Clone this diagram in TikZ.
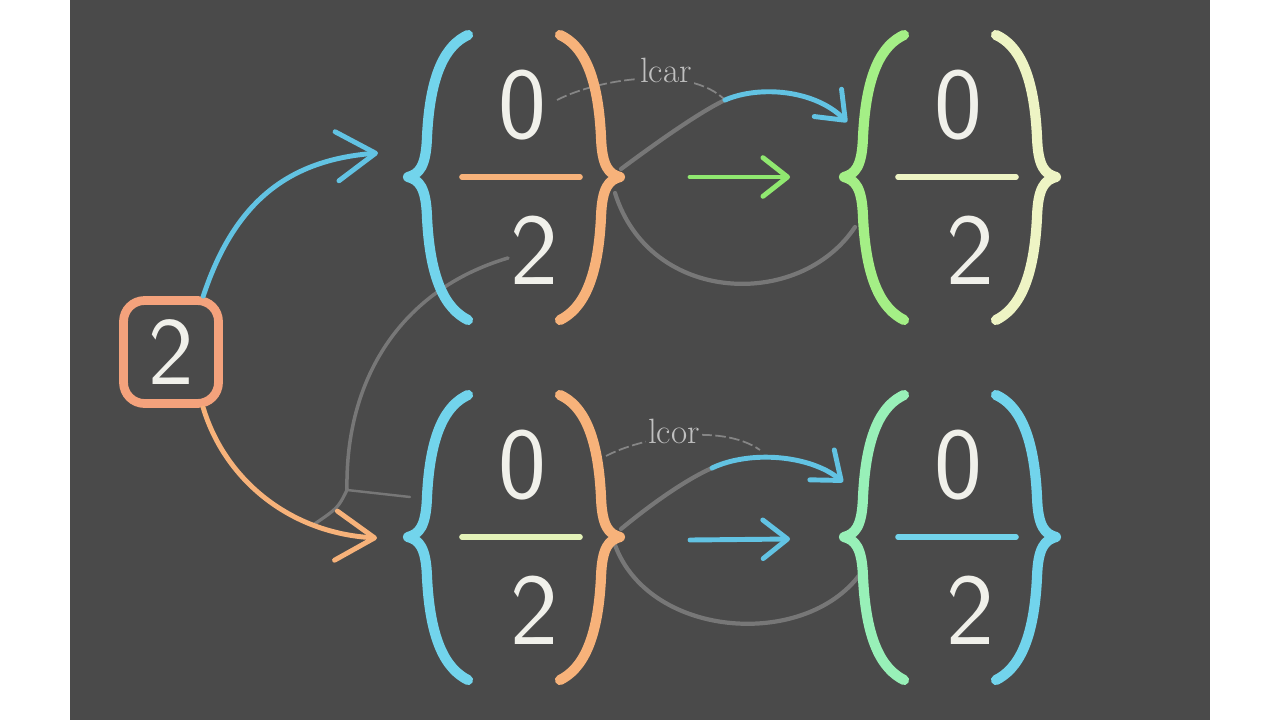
\documentclass[tikz,border=0pt]{standalone}
\usepackage{tikz}
\usetikzlibrary{arrows.meta, positioning}
\definecolor{board}{HTML}{4A4A4A}
\definecolor{chalk}{HTML}{F0F0EA}
\definecolor{skyc}{HTML}{72D4EC}
\definecolor{skyarr}{HTML}{62C3E3}
\definecolor{peach}{HTML}{F7B27A}
\definecolor{boxorange}{HTML}{F4A27C}
\definecolor{leaf}{HTML}{A4EF86}
\definecolor{leafarr}{HTML}{90E870}
\definecolor{cream}{HTML}{EEF4C4}
\definecolor{mint}{HTML}{98F0B8}
\definecolor{lime}{HTML}{E4F3B9}
\definecolor{pencilgray}{HTML}{777777}
\definecolor{faintgray}{HTML}{858585}
\definecolor{taggray}{HTML}{C0C0C0}

\begin{document}
\begin{tikzpicture}[
    x=0.02cm, y=-0.02cm,
    digit/.style={text=chalk, font=\sffamily\fontsize{58}{58}\selectfont, inner sep=0pt},
    seedbox/.style={draw=boxorange, line width=5pt, rounded corners=0.42cm, minimum width=1.9cm, minimum height=2.06cm, text=chalk, font=\sffamily\fontsize{55}{55}\selectfont},
    brace/.style={line width=5.8pt, line cap=round, line join=round},
    bar/.style={line width=3.2pt, line cap=round},
    chalkarrow/.style={line width=2.8pt, line cap=round, -{Straight Barb[length=14pt, width=22pt, round]}},
    bigarrow/.style={chalkarrow, -{Straight Barb[length=22pt, width=28pt, round]}},
    pencil/.style={draw=pencilgray, line width=2.4pt, line cap=round},
    faint/.style={draw=faintgray, line width=1pt, dash pattern=on 6pt off 2pt},
    tag/.style={text=taggray, fill=board, font=\fontsize{20}{20}\selectfont, inner sep=1pt},
    pics/lbrace/.style={code={\draw[brace, pic actions] (-46,-142) .. controls (-68,-132) and (-84,-104) .. (-87,-40) .. controls (-88,-10) and (-95,-3) .. (-106,0) .. controls (-95,3) and (-88,10) .. (-87,40) .. controls (-84,104) and (-68,132) .. (-46,143);}},
    pics/rbrace/.style={code={\draw[brace, pic actions] (46,-142) .. controls (68,-132) and (84,-104) .. (87,-40) .. controls (88,-10) and (95,-3) .. (106,0) .. controls (95,3) and (88,10) .. (87,40) .. controls (84,104) and (68,132) .. (46,143);}}
]
\useasboundingbox (0,0) rectangle (1280,720);
\fill[white] (0,0) rectangle (1280,720);
\fill[board] (70,0) rectangle (1210,720);

% Free ends of the connectors
\coordinate (tl-tail) at (508,258);
\coordinate (fork) at (347,490);
\coordinate (fork-l) at (313,525);
\coordinate (fork-r) at (410,497);
\coordinate (tl-in) at (378,153);
\coordinate (bl-in) at (377,538);
\coordinate (tl-out) at (621,169);
\coordinate (tl-hop) at (725,100);
\coordinate (tr-in) at (847,122);
\coordinate (tl-hook) at (557,100);
\coordinate (tl-u) at (615,193);
\coordinate (tr-u) at (855,227);
\coordinate (bl-out) at (621,529);
\coordinate (bl-hop) at (712,468);
\coordinate (br-in) at (843,482);
\coordinate (bl-hook) at (606,456);
\coordinate (bl-hook-end) at (760,450);
\coordinate (bl-u) at (615,545);
\coordinate (br-u) at (863,570);
\coordinate (tl-a) at (690,177);
\coordinate (tr-a) at (790,177);
\coordinate (bl-a) at (690,540);
\coordinate (br-a) at (790,539);

% Pencil guide lines
\draw[pencil, line width=2pt] (tl-tail) .. controls (400,290) and (345,380) .. (fork);
\draw[pencil, line width=1.8pt] (fork) .. controls (338,508) .. (fork-l);
\draw[pencil, line width=1.4pt] (fork) .. controls (365,492) .. (fork-r);
\draw[pencil] (tl-u) .. controls (650,305) and (800,310) .. (tr-u);
\draw[pencil] (bl-u) .. controls (650,640) and (810,650) .. (br-u);
\draw[pencil] (tl-out) .. controls (660,140) and (700,112) .. (tl-hop);
\draw[pencil] (bl-out) .. controls (650,505) and (685,480) .. (bl-hop);
\draw[faint] (tl-hook) .. controls (600,78) and (690,65) .. (tl-hop);
\draw[faint] (bl-hook) .. controls (640,438) and (720,422) .. (bl-hook-end);
\node[tag] (tl-tag) at (666,70) {lcar};
\node[tag] (bl-tag) at (674,431) {lcor};

% Fractions in braces
\foreach \nm/\cx/\cy/\lc/\rc/\bc in {tl/514/177/skyc/peach/peach, tr/950/177/leaf/cream/cream, bl/514/537/skyc/peach/lime, br/950/537/mint/skyc/skyc}{
  \pic[color=\lc] at (\cx,\cy) {lbrace};
  \pic[color=\rc] at (\cx,\cy) {rbrace};
  \draw[bar, draw=\bc] (\cx-52,\cy) -- (\cx+66,\cy);
  \node[digit] (\nm-top) at (\cx+8,\cy-72) {0};
  \node[digit] (\nm-bot) at (\cx+20,\cy+73) {2};
}

% Seed value
\node[seedbox] (seed) at (171,352) {2};

% Arrows
\draw[bigarrow, skyarr] (seed.60) .. controls (235,200) and (290,160) .. (tl-in);
\draw[bigarrow, peach] (seed.-60) .. controls (225,480) and (290,533) .. (bl-in);
\draw[chalkarrow, skyarr] (tl-hop) .. controls (760,85) and (815,90) .. (tr-in);
\draw[chalkarrow, skyarr] (bl-hop) .. controls (750,450) and (810,455) .. (br-in);
\draw[chalkarrow, leafarr] (tl-a) -- (tr-a);
\draw[chalkarrow, skyarr] (bl-a) -- (br-a);

\end{tikzpicture}
\end{document}
